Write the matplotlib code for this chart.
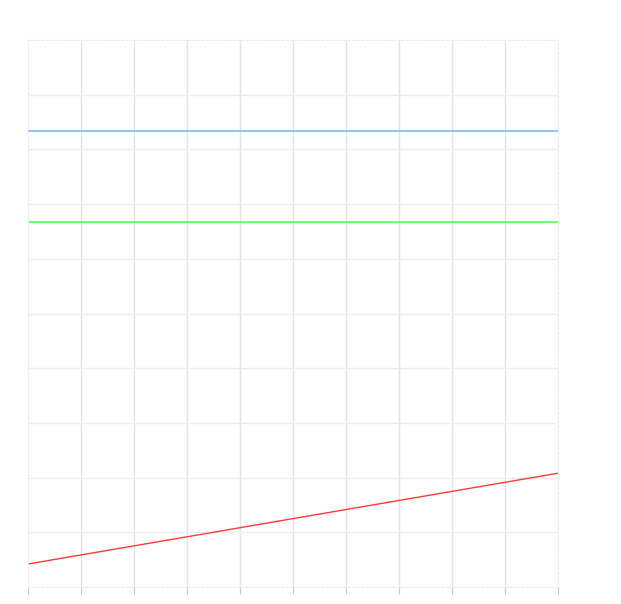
import matplotlib
matplotlib.use('Agg')
import matplotlib.pyplot as plt

# data (x from 0 to 10, y from 0 to 10)
x_ends = [0, 10]
blue_y = [8.34, 8.34]
green_y = [6.67, 6.67]
red_y = [0.42, 2.08]

fig = plt.figure(figsize=(6.21, 6.04), dpi=100)
ax = fig.add_axes([28/621, 17/604, 530/621, 547/604])

ax.set_xlim(0, 10)
ax.set_ylim(0, 10)
ax.set_xticks(range(0, 11))
ax.set_yticks(range(0, 11))

# grid
for v in range(1, 10):
    ax.axvline(v, color='#e4e4e6', lw=1, zorder=0)
for v in range(1, 10):
    ax.axhline(v, color='#f0ecee', lw=1, zorder=0)

ax.plot(x_ends, blue_y, color='#6cb4ff', lw=1.1)
ax.plot(x_ends, green_y, color='#44ff44', lw=1.1)
ax.plot(x_ends, red_y, color='#ff3a3a', lw=1.0)

for s in ax.spines.values():
    s.set_linestyle((0, (2, 2)))
    s.set_color('#efe9ed')
    s.set_linewidth(0.8)

ax.tick_params(axis='x', length=5, width=0.8, color='#c8c8d0', labelbottom=False, pad=2)
ax.tick_params(axis='y', length=0, labelleft=False)

fig.savefig('out.png', dpi=100)
